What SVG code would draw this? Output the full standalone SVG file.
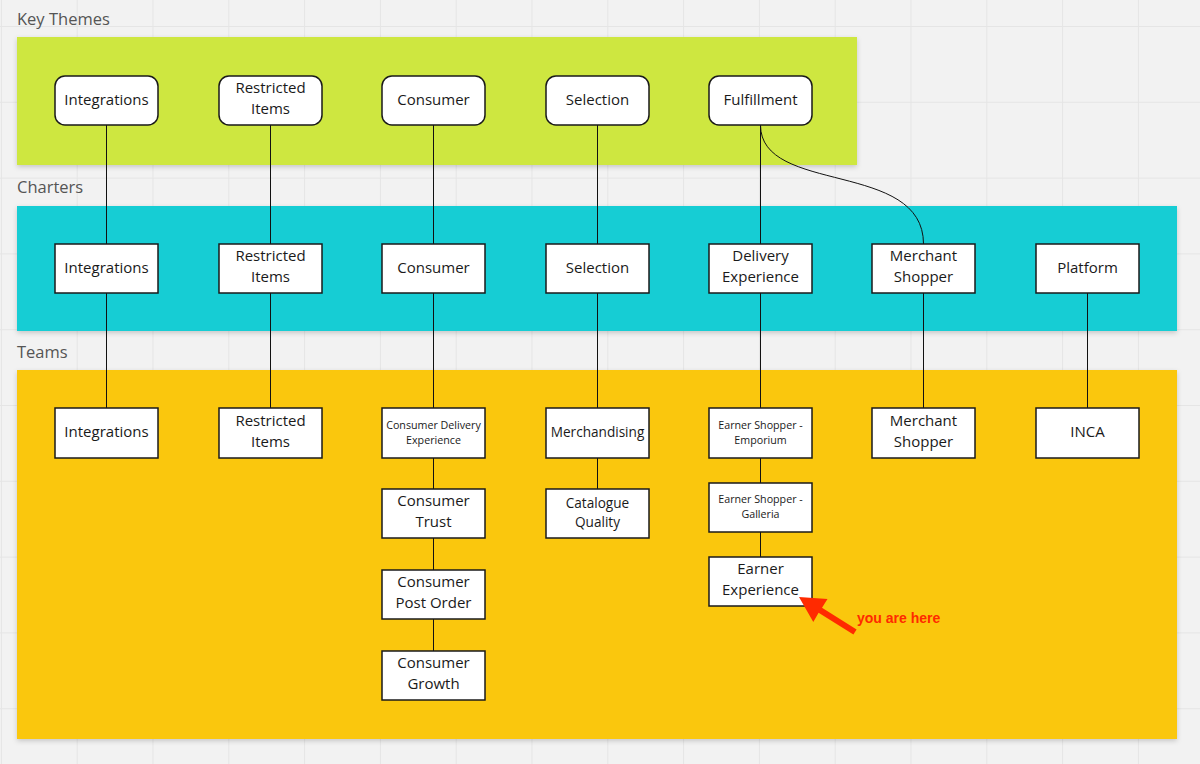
<svg xmlns="http://www.w3.org/2000/svg" width="1200" height="764" viewBox="0 0 1200 764">
  <defs>
    <filter id="shadow" x="-5%" y="-5%" width="110%" height="115%">
      <feDropShadow dx="0" dy="2" stdDeviation="2.5" flood-color="#000" flood-opacity="0.18"/>
    </filter>
    <style>
      .title{font-family:"Open Sans","Noto Sans","Liberation Sans",sans-serif;font-size:16.5px;fill:#555555}
      .node rect{fill:#ffffff;stroke:#1a1a1a;stroke-width:1.5}
      .node text{font-family:"Open Sans","Noto Sans","Liberation Sans",sans-serif;font-size:15px;fill:#1a1a1a;text-anchor:middle}
      .node text.sm{font-size:10.7px}
      .node text.md{font-size:13.6px}
      .conn path{fill:none;stroke:#111111;stroke-width:1}
      .grid{stroke:#e5e5e5;stroke-width:1;fill:none}
    </style>
  </defs>

  <rect width="1200" height="764" fill="#f2f2f2"/>
  <path class="grid" d="M1.4,0V764M77.2,0V764M153,0V764M228.8,0V764M304.6,0V764M380.4,0V764M456.2,0V764M532,0V764M607.8,0V764M683.6,0V764M759.4,0V764M835.2,0V764M911,0V764M986.8,0V764M1062.6,0V764M1138.4,0V764M0,26.5H1200M0,102.3H1200M0,178.1H1200M0,253.9H1200M0,329.7H1200M0,405.5H1200M0,481.3H1200M0,557.1H1200M0,632.9H1200M0,708.7H1200"/>

  <g id="frames">
    <g id="frame-key-themes">
      <text class="title" x="17" y="24.5">Key Themes</text>
      <rect x="17" y="37" width="840" height="128" fill="#cee741" filter="url(#shadow)"/>
    </g>
    <g id="frame-charters">
      <text class="title" x="17" y="193">Charters</text>
      <rect x="17" y="206" width="1160" height="125" fill="#12cdd4" filter="url(#shadow)"/>
    </g>
    <g id="frame-teams">
      <text class="title" x="17" y="358">Teams</text>
      <rect x="17" y="370" width="1160" height="369" fill="#fac710" filter="url(#shadow)"/>
    </g>
  </g>

  <g id="connectors" class="conn">
    <path d="M106.5,125V244"/>
    <path d="M270.5,125V244"/>
    <path d="M433.5,125V244"/>
    <path d="M597.5,125V244"/>
    <path d="M760.5,125V244"/>
    <path d="M760.5,125C760.5,195 923.5,160 923.5,244"/>
    <path d="M106.5,293V408"/>
    <path d="M270.5,293V408"/>
    <path d="M433.5,293V408"/>
    <path d="M597.5,293V408"/>
    <path d="M760.5,293V408"/>
    <path d="M923.5,293V408"/>
    <path d="M1087.5,293V408"/>
    <path d="M433.5,458V489"/>
    <path d="M433.5,538V570"/>
    <path d="M433.5,619V651"/>
    <path d="M597.5,458V489"/>
    <path d="M760.5,458V483"/>
    <path d="M760.5,532V557"/>
  </g>

  <g id="key-themes">
    <g id="kt-integrations" class="node"><rect x="55" y="76" width="103" height="49" rx="10"/><text x="106.5" y="104.5">Integrations</text></g>
    <g id="kt-restricted-items" class="node"><rect x="219" y="76" width="103" height="49" rx="10"/><text x="270.5" y="93">Restricted</text><text x="270.5" y="114">Items</text></g>
    <g id="kt-consumer" class="node"><rect x="382" y="76" width="103" height="49" rx="10"/><text x="433.5" y="104.5">Consumer</text></g>
    <g id="kt-selection" class="node"><rect x="546" y="76" width="103" height="49" rx="10"/><text x="597.5" y="104.5">Selection</text></g>
    <g id="kt-fulfillment" class="node"><rect x="709" y="76" width="103" height="49" rx="10"/><text x="760.5" y="104.5">Fulfillment</text></g>
  </g>

  <g id="charters">
    <g id="ch-integrations" class="node"><rect x="55" y="244" width="103" height="49"/><text x="106.5" y="272.5">Integrations</text></g>
    <g id="ch-restricted-items" class="node"><rect x="219" y="244" width="103" height="49"/><text x="270.5" y="261">Restricted</text><text x="270.5" y="282">Items</text></g>
    <g id="ch-consumer" class="node"><rect x="382" y="244" width="103" height="49"/><text x="433.5" y="272.5">Consumer</text></g>
    <g id="ch-selection" class="node"><rect x="546" y="244" width="103" height="49"/><text x="597.5" y="272.5">Selection</text></g>
    <g id="ch-delivery-experience" class="node"><rect x="709" y="244" width="103" height="49"/><text x="760.5" y="261">Delivery</text><text x="760.5" y="282">Experience</text></g>
    <g id="ch-merchant-shopper" class="node"><rect x="872" y="244" width="103" height="49"/><text x="923.5" y="261">Merchant</text><text x="923.5" y="282">Shopper</text></g>
    <g id="ch-platform" class="node"><rect x="1036" y="244" width="103" height="49"/><text x="1087.5" y="272.5">Platform</text></g>
  </g>

  <g id="teams">
    <g id="tm-integrations" class="node"><rect x="55" y="408" width="103" height="50"/><text x="106.5" y="437">Integrations</text></g>
    <g id="tm-restricted-items" class="node"><rect x="219" y="408" width="103" height="50"/><text x="270.5" y="425.5">Restricted</text><text x="270.5" y="446.5">Items</text></g>
    <g id="tm-consumer-delivery-experience" class="node"><rect x="382" y="408" width="103" height="50"/><text class="sm" x="433.5" y="428.5">Consumer Delivery</text><text class="sm" x="433.5" y="443.5">Experience</text></g>
    <g id="tm-consumer-trust" class="node"><rect x="382" y="489" width="103" height="49"/><text x="433.5" y="506">Consumer</text><text x="433.5" y="527">Trust</text></g>
    <g id="tm-consumer-post-order" class="node"><rect x="382" y="570" width="103" height="49"/><text x="433.5" y="587">Consumer</text><text x="433.5" y="608">Post Order</text></g>
    <g id="tm-consumer-growth" class="node"><rect x="382" y="651" width="103" height="49"/><text x="433.5" y="668">Consumer</text><text x="433.5" y="689">Growth</text></g>
    <g id="tm-merchandising" class="node"><rect x="546" y="408" width="103" height="50"/><text class="md" x="597.5" y="437">Merchandising</text></g>
    <g id="tm-catalogue-quality" class="node"><rect x="546" y="489" width="103" height="49"/><text class="md" x="597.5" y="507.5">Catalogue</text><text class="md" x="597.5" y="526.5">Quality</text></g>
    <g id="tm-earner-shopper-emporium" class="node"><rect x="709" y="408" width="103" height="50"/><text class="sm" x="760.5" y="428.5">Earner Shopper -</text><text class="sm" x="760.5" y="443.5">Emporium</text></g>
    <g id="tm-earner-shopper-galleria" class="node"><rect x="709" y="483" width="103" height="49"/><text class="sm" x="760.5" y="502.5">Earner Shopper -</text><text class="sm" x="760.5" y="517.5">Galleria</text></g>
    <g id="tm-earner-experience" class="node"><rect x="709" y="557" width="103" height="49"/><text x="760.5" y="574">Earner</text><text x="760.5" y="595">Experience</text></g>
    <g id="tm-merchant-shopper" class="node"><rect x="872" y="408" width="103" height="50"/><text x="923.5" y="425.5">Merchant</text><text x="923.5" y="446.5">Shopper</text></g>
    <g id="tm-inca" class="node"><rect x="1036" y="408" width="103" height="50"/><text x="1087.5" y="437">INCA</text></g>
  </g>

  <g id="you-are-here">
    <polygon points="799,597 827.5,599 822,607.7 856.6,629.5 853.4,634.5 818.6,612.8 813.3,622" fill="#ff2a00"/>
    <text x="857" y="623" font-family="'Liberation Sans',Arial,sans-serif" font-weight="bold" font-size="14" fill="#ff2a00">you are here</text>
  </g>
</svg>
